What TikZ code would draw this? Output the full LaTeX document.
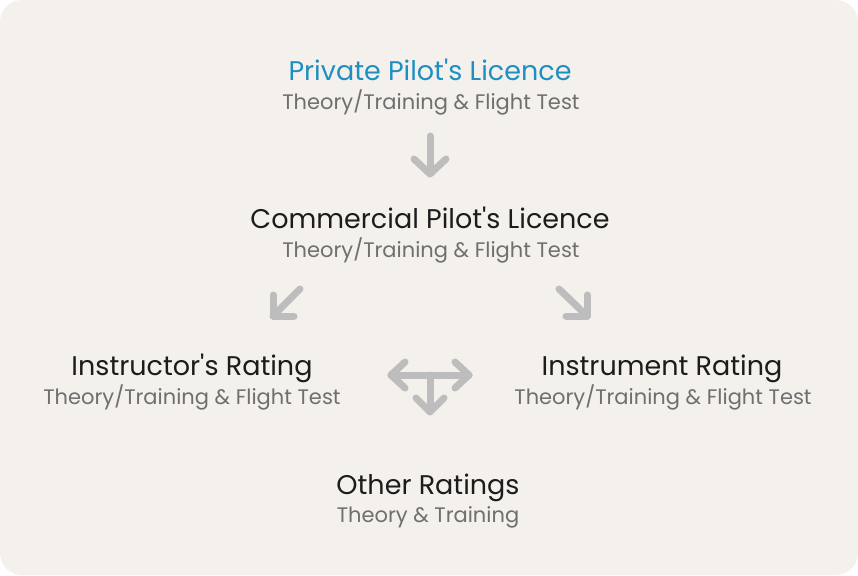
\documentclass[tikz,border=0pt]{standalone}
\usepackage{fontspec}
\setmainfont{Poppins}[Ligatures=TeXOff]
\definecolor{bgc}{HTML}{F4F1EC}
\definecolor{ttl}{HTML}{1F8FC2}
\definecolor{blk}{HTML}{1C1C1C}
\definecolor{sub}{HTML}{6F6F6F}
\definecolor{arr}{HTML}{BDBDBD}
\begin{document}
\begin{tikzpicture}[x=1pt,y=-1pt,
  title/.style={font=\fontsize{27}{31}\selectfont, text=blk, inner sep=0pt, anchor=base},
  subt/.style={font=\fontsize{21}{24}\selectfont, text=sub, inner sep=0pt, anchor=base},
  icon/.style={draw=arr, line width=7pt, line cap=round, line join=round}]
\useasboundingbox (0,0) rectangle (858,575);
\fill[bgc, rounded corners=22pt] (0,0) rectangle (858,575);
\node[title, text=ttl] (ppl) at (430,81) {Private Pilot's Licence};
\node[subt] (ppls) at (431,110) {Theory/Training \& Flight Test};
\node[title] (cpl) at (430,228) {Commercial Pilot's Licence};
\node[subt] (cpls) at (431,257) {Theory/Training \& Flight Test};
\node[title] (ir) at (192,375) {Instructor's Rating};
\node[subt] (irs) at (192,404) {Theory/Training \& Flight Test};
\node[title] (inr) at (662,375) {Instrument Rating};
\node[subt] (inrs) at (663,404) {Theory/Training \& Flight Test};
\node[title] (oth) at (428,494) {Other Ratings};
\node[subt] (oths) at (428,522) {Theory \& Training};
% down arrow
\draw[icon] (430,136) -- (430,173);
\draw[icon] (414,159) -- (430,174) -- (446,159);
% diagonal left
\draw[icon] (300,289) -- (273,316);
\draw[icon] (273,295) -- (273,316) -- (294,316);
% diagonal right
\draw[icon] (559,289) -- (587,316);
\draw[icon] (587,295) -- (587,316) -- (566,316);
% double arrow
\draw[icon] (391,375) -- (469,375);
\draw[icon] (405,362) -- (391,375) -- (405,388);
\draw[icon] (455,362) -- (469,375) -- (455,388);
\draw[icon] (430,375) -- (430,411);
\draw[icon] (416,398) -- (430,412) -- (444,398);
\end{tikzpicture}
\end{document}
